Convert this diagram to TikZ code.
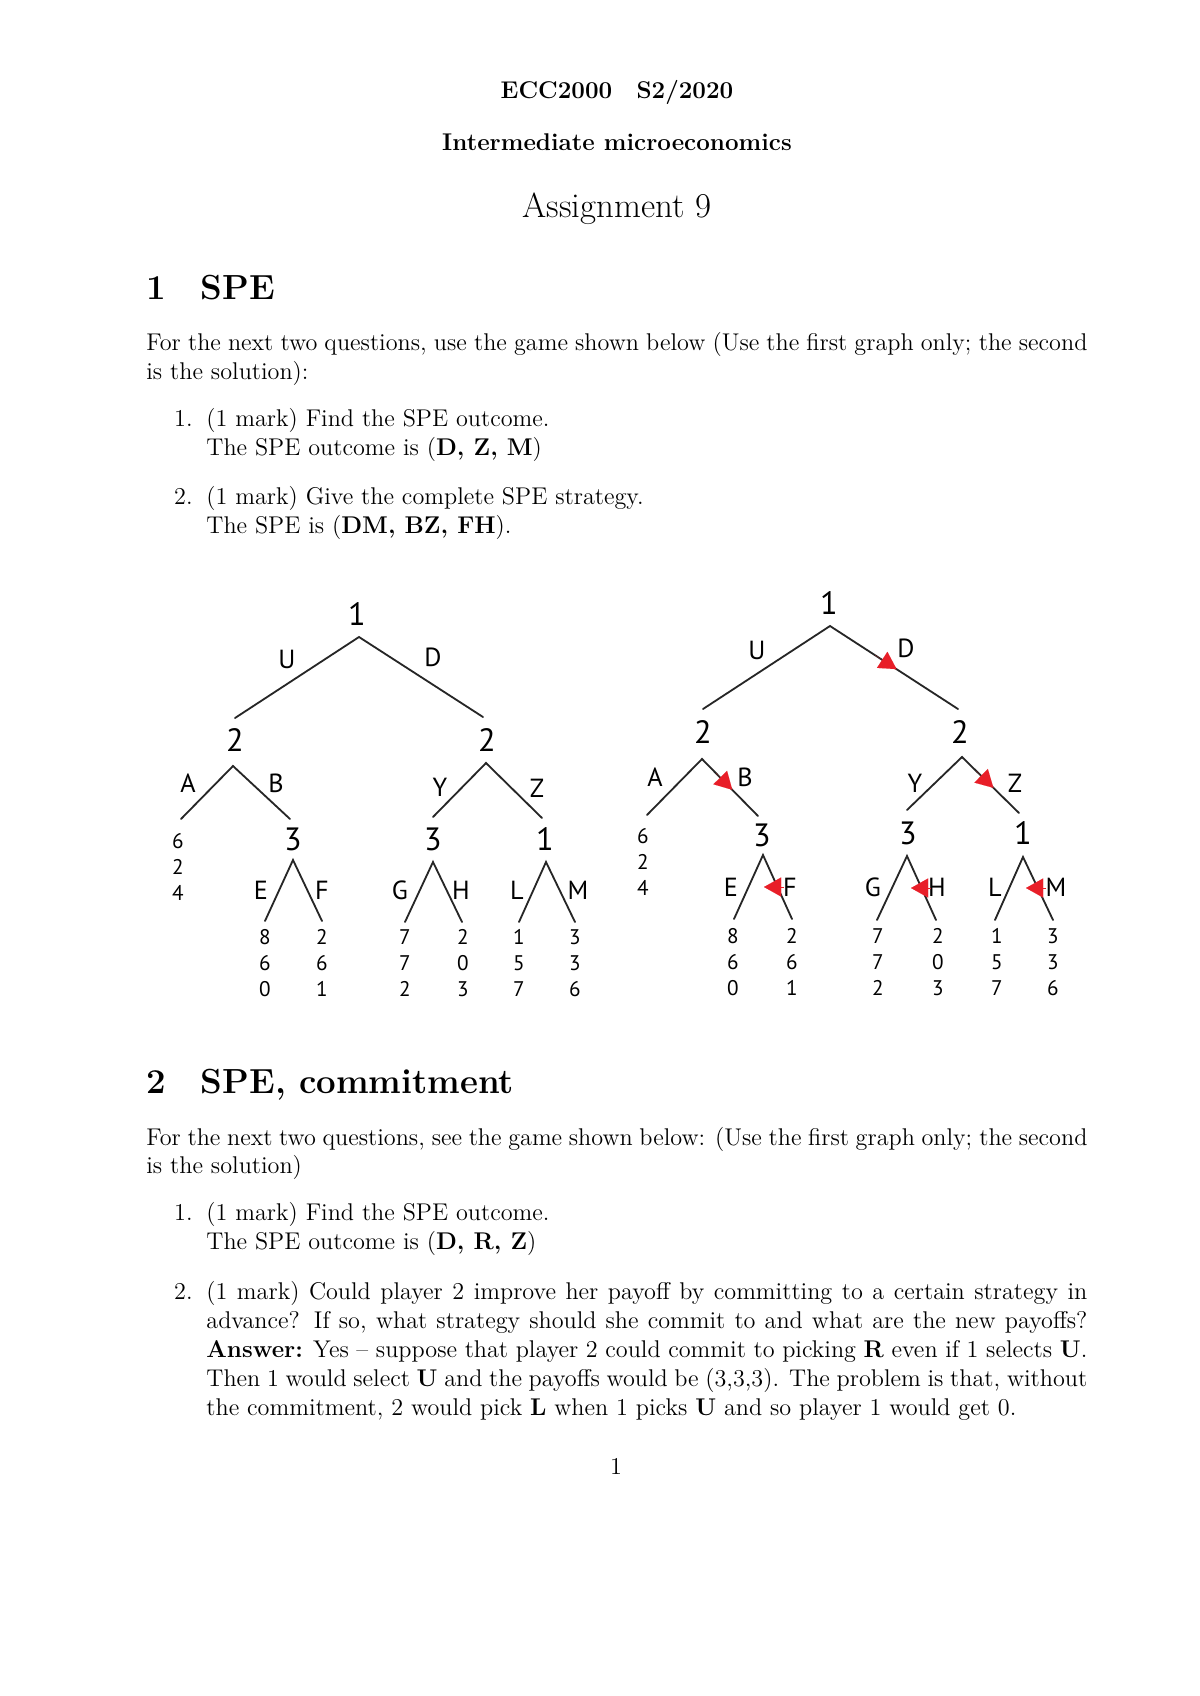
\documentclass[tikz,border=0pt]{standalone}
\usepackage{fontspec}
\newfontfamily\treefont{PT Sans}
\usetikzlibrary{calc,arrows.meta}
\definecolor{arrred}{RGB}{232,30,40}
\newcommand{\jline}[1]{\makebox[466.8pt][s]{#1}}
\newcommand{\iline}[1]{\makebox[437pt][s]{#1}}
\begin{document}
\begin{tikzpicture}[x=0.49606pt,y=-0.49606pt,
  txt/.style={anchor=base west,inner sep=0pt,font=\fontsize{12}{14.5}\selectfont},
  ctr/.style={anchor=base,inner sep=0pt,font=\fontsize{12}{14.5}\selectfont},
  lbl/.style={anchor=base east,inner sep=0pt,font=\fontsize{12}{14.5}\selectfont},
  sec/.style={anchor=base west,inner sep=0pt,font=\fontsize{17.28}{22}\selectfont\bfseries},
  pl/.style={inner sep=0pt,font=\treefont\fontsize{16}{16}\selectfont},
  act/.style={inner sep=0pt,font=\treefont\fontsize{13}{13}\selectfont},
  pay/.style={inner sep=0pt,align=center,font=\treefont\fontsize{10.5}{12.9}\selectfont},
  br/.style={line width=0.9pt,black!85,line cap=round},
  redtip/.style={arrred,line width=0.01pt,-{Triangle[length=8.5pt,width=9.5pt]}},
  ]
\fill[white] (0,0) rectangle (1200,1696);
\useasboundingbox (0,0) rectangle (1200,1696);

% ---------- header ----------
\node[ctr,font=\fontsize{12}{14.5}\selectfont\bfseries] (hd1) at (617,98) {ECC2000\quad S2/2020};
\node[ctr,font=\fontsize{12}{14.5}\selectfont\bfseries] (hd2) at (617,150) {Intermediate microeconomics};
\node[ctr,font=\fontsize{17.28}{22}\selectfont] (hd3) at (617,217) {Assignment 9};

% ---------- section 1 ----------
\node[sec] (s1) at (146,299) {1\quad SPE};
\node[txt] (p1a) at (146,350) {\jline{For the next two questions, use the game shown below (Use the first graph only; the second}};
\node[txt] (p1b) at (146,379) {is the solution):};
\node[lbl] (i1n) at (193,426) {1.};
\node[txt] (i1a) at (206,426) {(1 mark) Find the SPE outcome.};
\node[txt] (i1b) at (206,455) {The SPE outcome is (\textbf{D, Z, M})};
\node[lbl] (i2n) at (193,504) {2.};
\node[txt] (i2a) at (206,504) {(1 mark) Give the complete SPE strategy.};
\node[txt] (i2b) at (206,533) {The SPE is (\textbf{DM, BZ, FH}).};

% ---------- tree 1 ----------
\coordinate (a1) at (359,637);
\coordinate (a1u) at (235,718);
\coordinate (a1d) at (483,717);
\coordinate (b1) at (233,766);
\coordinate (b1a) at (181,819);
\coordinate (b1b) at (290,819);
\coordinate (c1) at (293,860);
\coordinate (c1e) at (265,921);
\coordinate (c1f) at (322,921);
\coordinate (d1) at (486,763);
\coordinate (d1y) at (433,817);
\coordinate (d1z) at (542,818);
\coordinate (e1) at (433,862);
\coordinate (e1g) at (405,922);
\coordinate (e1h) at (462,922);
\coordinate (f1) at (546,862);
\coordinate (f1l) at (519,922);
\coordinate (f1m) at (575,922);
\draw[br] (a1u) -- (a1) -- (a1d);
\draw[br] (b1a) -- (b1) -- (b1b);
\draw[br] (c1e) -- (c1) -- (c1f);
\draw[br] (d1y) -- (d1) -- (d1z);
\draw[br] (e1g) -- (e1) -- (e1h);
\draw[br] (f1l) -- (f1) -- (f1m);
\node[pl] (t1r) at (357,614) {1};
\node[pl] (t1p2a) at (235,740) {2};
\node[pl] (t1p2b) at (487,740) {2};
\node[pl] (t1p3a) at (293,839) {3};
\node[pl] (t1p3b) at (433,839) {3};
\node[pl] (t1p1) at (545,839) {1};
\node[act] (t1U) at (287,659) {U};
\node[act] (t1D) at (433,657) {D};
\node[act] (t1A) at (188,783) {A};
\node[act] (t1B) at (276,783) {B};
\node[act] (t1E) at (261,890) {E};
\node[act] (t1F) at (322,890) {F};
\node[act] (t1Y) at (440,787) {Y};
\node[act] (t1Z) at (537,788) {Z};
\node[act] (t1G) at (400,890) {G};
\node[act] (t1H) at (461,890) {H};
\node[act] (t1L) at (517,890) {L};
\node[act] (t1M) at (578,890) {M};
\node[pay] (t1pa) at (178,867) {6\\2\\4};
\node[pay] (t1pe) at (265,963) {8\\6\\0};
\node[pay] (t1pf) at (322,963) {2\\6\\1};
\node[pay] (t1pg) at (405,963) {7\\7\\2};
\node[pay] (t1ph) at (463,963) {2\\0\\3};
\node[pay] (t1pl) at (519,963) {1\\5\\7};
\node[pay] (t1pm) at (575,963) {3\\3\\6};

% ---------- tree 2 ----------
\coordinate (a2) at (830,626);
\coordinate (a2u) at (703,709);
\coordinate (a2d) at (958,709);
\coordinate (b2) at (702,759);
\coordinate (b2a) at (647,815);
\coordinate (b2b) at (758,816);
\coordinate (c2) at (763,855);
\coordinate (c2e) at (734,919);
\coordinate (c2f) at (792,919);
\coordinate (d2) at (962,757);
\coordinate (d2y) at (907,810);
\coordinate (d2z) at (1019,813);
\coordinate (e2) at (907,856);
\coordinate (e2g) at (877,920);
\coordinate (e2h) at (936,920);
\coordinate (f2) at (1023,857);
\coordinate (f2l) at (995,920);
\coordinate (f2m) at (1053,920);
\draw[br] (a2u) -- (a2) -- (a2d);
\draw[br] (b2a) -- (b2) -- (b2b);
\draw[br] (c2e) -- (c2) -- (c2f);
\draw[br] (d2y) -- (d2) -- (d2z);
\draw[br] (e2g) -- (e2) -- (e2h);
\draw[br] (f2l) -- (f2) -- (f2m);
\node[pl] (t2r) at (829,603) {1};
\node[pl] (t2p2a) at (703,732) {2};
\node[pl] (t2p2b) at (960,732) {2};
\node[pl] (t2p3a) at (762,835) {3};
\node[pl] (t2p3b) at (908,833) {3};
\node[pl] (t2p1) at (1023,833) {1};
\node[act] (t2U) at (757,650) {U};
\node[act] (t2D) at (906,648) {D};
\node[act] (t2A) at (655,777) {A};
\node[act] (t2B) at (745,777) {B};
\node[act] (t2E) at (731,887) {E};
\node[act] (t2F) at (790,887) {F};
\node[act] (t2Y) at (915,783) {Y};
\node[act] (t2Z) at (1015,783) {Z};
\node[act] (t2G) at (873,887) {G};
\node[act] (t2H) at (937,887) {H};
\node[act] (t2L) at (995,887) {L};
\node[act] (t2M) at (1056,887) {M};
\node[pay] (t2pa) at (643,862) {6\\2\\4};
\node[pay] (t2pe) at (733,962) {8\\6\\0};
\node[pay] (t2pf) at (792,962) {2\\6\\1};
\node[pay] (t2pg) at (878,962) {7\\7\\2};
\node[pay] (t2ph) at (938,962) {2\\0\\3};
\node[pay] (t2pl) at (997,962) {1\\5\\7};
\node[pay] (t2pm) at (1053,962) {3\\3\\6};
% red arrows
\draw[redtip] ($(a2)!0.35!(a2d)$) -- ($(a2)!0.52!(a2d)$);
\draw[redtip] ($(b2)!0.25!(b2b)$) -- ($(b2)!0.54!(b2b)$);
\draw[redtip] ($(d2)!0.25!(d2z)$) -- ($(d2)!0.55!(d2z)$);
\coordinate (tF) at (764,887);
\coordinate (tH) at (911,888);
\coordinate (tM) at (1026,888);
\draw[redtip] ($(tF)+(20,0)$) -- (tF);
\draw[redtip] ($(tH)+(20,0)$) -- (tH);
\draw[redtip] ($(tM)+(20,0)$) -- (tM);

% ---------- section 2 ----------
\node[sec] (s2) at (146,1093) {2\quad SPE, commitment};
\node[txt] (q1a) at (146,1145) {\jline{For the next two questions, see the game shown below: (Use the first graph only; the second}};
\node[txt] (q1b) at (146,1173) {is the solution)};
\node[lbl] (j1n) at (193,1220) {1.};
\node[txt] (j1a) at (206,1220) {(1 mark) Find the SPE outcome.};
\node[txt] (j1b) at (206,1249) {The SPE outcome is (\textbf{D, R, Z})};
\node[lbl] (j2n) at (193,1299) {2.};
\node[txt] (j2a) at (206,1299) {\iline{(1 mark) Could player 2 improve her payoff by committing to a certain strategy in}};
\node[txt] (j2b) at (206,1328) {\iline{advance? If so, what strategy should she commit to and what are the new payoffs?}};
\node[txt] (j2c) at (206,1357) {\iline{\textbf{Answer:} Yes -- suppose that player 2 could commit to picking \textbf{R} even if 1 selects \textbf{U}.}};
\node[txt] (j2d) at (206,1386) {\iline{Then 1 would select \textbf{U} and the payoffs would be (3,3,3). The problem is that, without}};
\node[txt] (j2e) at (206,1415) {the commitment, 2 would pick \textbf{L} when 1 picks \textbf{U} and so player 1 would get 0.};

\node[ctr] (pg) at (616,1474) {1};
\end{tikzpicture}
\end{document}
